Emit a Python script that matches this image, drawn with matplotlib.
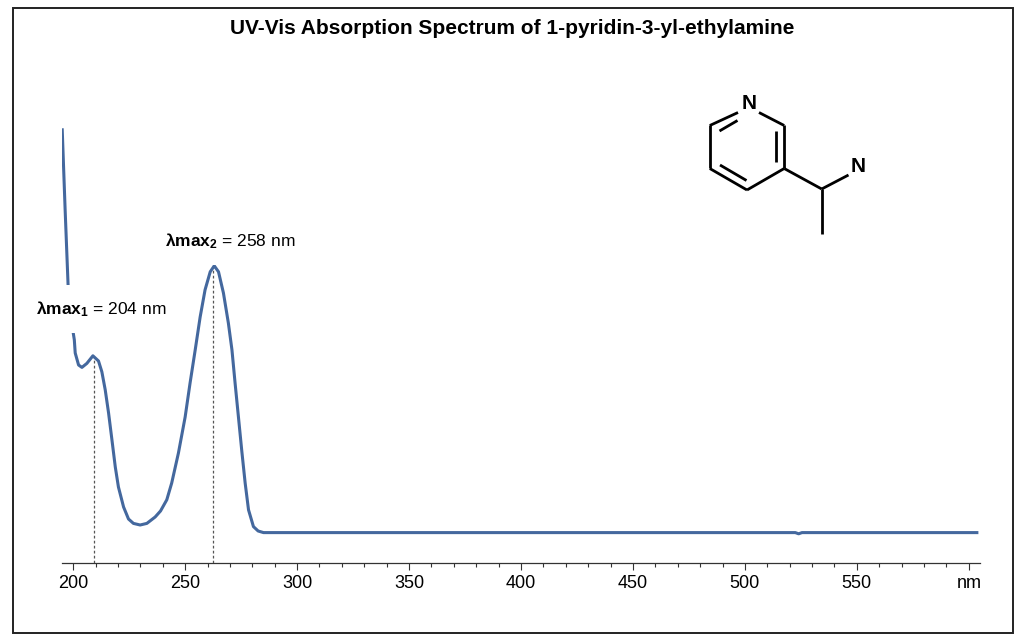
import matplotlib
matplotlib.use("Agg")
import matplotlib.pyplot as plt
from matplotlib.patches import Rectangle
from matplotlib.ticker import MultipleLocator, FixedLocator, FuncFormatter

plt.rcParams['font.family'] = ['Liberation Sans', 'DejaVu Sans']
plt.rcParams['mathtext.fontset'] = 'custom'
plt.rcParams['mathtext.rm'] = 'Liberation Sans'
plt.rcParams['mathtext.bf'] = 'Liberation Sans:bold'

# spectrum (nm, absorbance in arbitrary units)
wavelength = [195.1, 196.4, 197.8, 199.1, 200.5, 200.9, 202.4, 203.9, 206.1, 208.8,
              211.3, 212.8, 214.3, 215.8, 217.3, 218.8, 220.2, 222.5, 224.7, 226.9,
              229.9, 232.9, 236.6, 239.0, 241.8, 244.0, 247.0, 250.0, 252.2, 254.5,
              256.7, 258.9, 261.2, 263.0, 264.9, 267.1, 269.3, 270.9, 272.3, 273.8,
              275.3, 276.8, 278.3, 280.5, 282.6, 285.0, 296.9, 350.0, 400.0, 450.0,
              500.0, 522.5, 524.0, 525.5, 550.0, 600.0, 603.6]
absorbance = [1.083, 0.883, 0.683, 0.608, 0.558, 0.525, 0.495, 0.489, 0.499, 0.518,
              0.505, 0.478, 0.433, 0.375, 0.308, 0.240, 0.190, 0.140, 0.110, 0.099,
              0.095, 0.099, 0.115, 0.130, 0.158, 0.200, 0.275, 0.365, 0.450, 0.533,
              0.615, 0.683, 0.728, 0.743, 0.728, 0.675, 0.600, 0.533, 0.450, 0.365,
              0.280, 0.200, 0.133, 0.091, 0.080, 0.076, 0.076, 0.076, 0.076, 0.076,
              0.076, 0.076, 0.073, 0.076, 0.076, 0.076, 0.076]

peak_nm = [209.4, 262.6]
peak_abs = [0.518, 0.743]
peak_labels = [r"$\mathbf{λmax_1}$ = 204 nm", r"$\mathbf{λmax_2}$ = 258 nm"]
label_pos = [(183.5, 0.635), (241.1, 0.805)]

major_ticks = [200, 250, 300, 350, 400, 450, 500, 550, 600]
tick_text = ["200", "250", "300", "350", "400", "450", "500", "550", "nm"]

title = "UV-Vis Absorption Spectrum of 1-pyridin-3-yl-ethylamine"

W, H = 1024, 643
fig = plt.figure(figsize=(W / 100, H / 100), dpi=100)

ax = fig.add_axes([62 / W, (H - 563) / H, 918 / W, 500 / H])
ax.plot(wavelength, absorbance, color='#44689e', lw=2.2, solid_joinstyle='round', zorder=2)
for xp, yp in zip(peak_nm, peak_abs):
    ax.plot([xp, xp], [0, yp], color='#555555', lw=0.9, ls=(0, (2.2, 1.8)), zorder=1)
for txt, (tx, ty) in zip(peak_labels, label_pos):
    ax.text(tx, ty, txt, fontsize=12.5, ha='left', va='center', clip_on=False, zorder=3,
            bbox=dict(boxstyle='square,pad=0.8', fc='white', ec='none'))

ax.set_xlim(195, 605)
ax.set_ylim(0, 1.25)
for s in ['left', 'right', 'top']:
    ax.spines[s].set_visible(False)
ax.spines['bottom'].set_color('#333333')
ax.spines['bottom'].set_linewidth(0.9)
ax.set_yticks([])
ax.xaxis.set_major_locator(FixedLocator(major_ticks))
ax.xaxis.set_major_formatter(FuncFormatter(lambda v, p: tick_text[p] if p is not None and p < len(tick_text) else ""))
ax.xaxis.set_minor_locator(MultipleLocator(10))
ax.tick_params(axis='x', which='major', length=5, width=0.8, color='#333333',
               labelsize=13, pad=3.5)
ax.tick_params(axis='x', which='minor', length=3.2, width=0.8, color='#333333')

fig.text(0.5, 1 - 28 / H, title, ha='center', va='center', fontsize=15, fontweight='bold')

# structure drawing of the molecule, in pixel units of the figure
mol = fig.add_axes([690 / W, (H - 240) / H, 180 / W, 160 / H])
mol.set_xlim(690, 870)
mol.set_ylim(240, 80)
mol.axis('off')
bonds = [
    ((738.0, 112.5), (709.8, 125.5)),
    ((759.0, 112.5), (784.2, 125.5)),
    ((784.2, 125.5), (784.2, 168.5)),
    ((784.2, 168.5), (747.0, 190.0)),
    ((747.0, 190.0), (709.8, 168.5)),
    ((709.8, 168.5), (709.8, 125.5)),
    ((719.5, 131.0), (737.5, 120.5)),
    ((776.0, 131.0), (776.0, 162.0)),
    ((720.0, 165.0), (746.5, 180.5)),
    ((784.2, 168.5), (821.7, 189.0)),
    ((821.7, 189.0), (821.7, 233.5)),
    ((821.7, 189.0), (848.5, 175.0)),
]
for (x0, y0), (x1, y1) in bonds:
    mol.plot([x0, x1], [y0, y1], color='black', lw=2.0, solid_capstyle='butt')
mol.text(749.5, 104, "N", fontsize=15, fontweight='bold', ha='center', va='center')
mol.text(858.5, 166.5, "N", fontsize=15, fontweight='bold', ha='center', va='center')

fig.patches.append(Rectangle((13 / W, (H - 633) / H), 1000 / W, 625 / H,
                             transform=fig.transFigure, fill=False,
                             ec='#222222', lw=1.4))

fig.savefig("out.png", dpi=100)
